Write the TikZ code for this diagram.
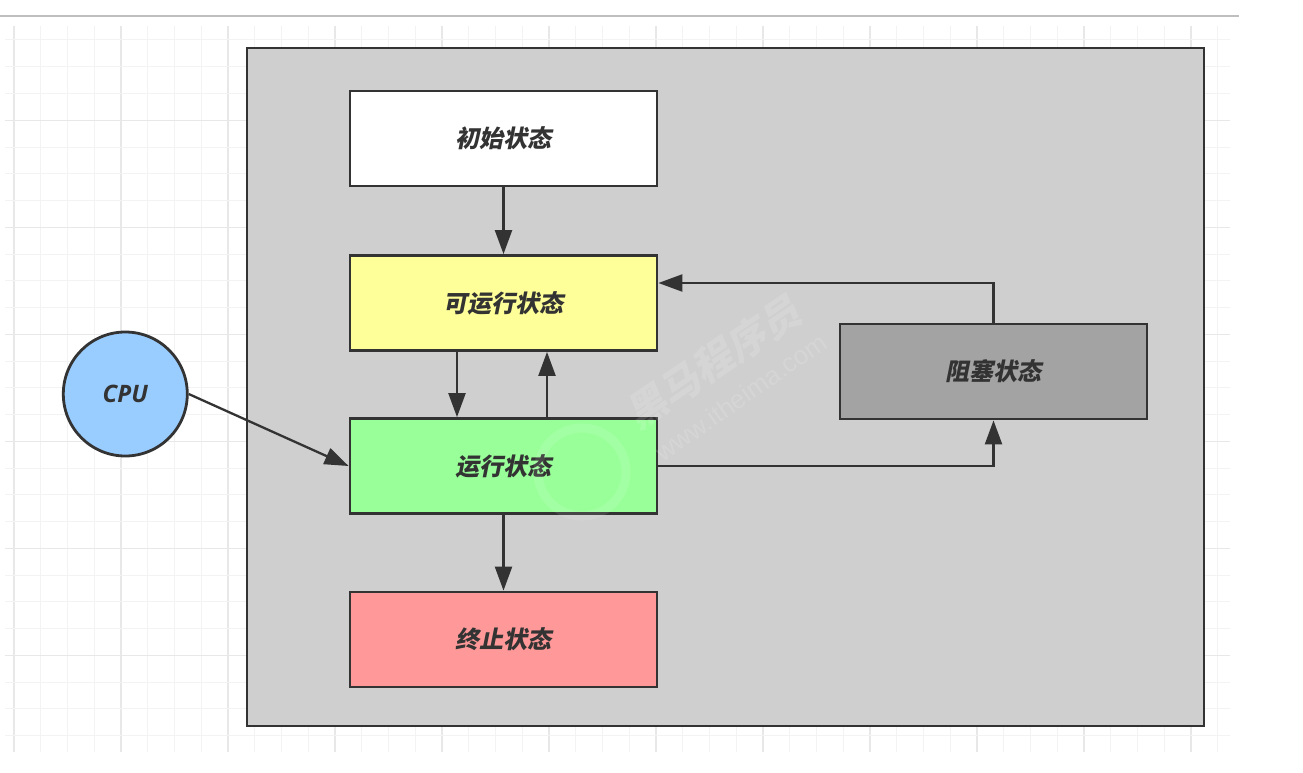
\documentclass[tikz,border=0pt]{standalone}
\usepackage{fontspec}
\newfontfamily\cjk[FakeSlant=0.2]{Noto Sans CJK SC}
\newfontfamily\lat{Open Sans}
\newfontfamily\wmlat{Liberation Sans}
\usetikzlibrary{arrows.meta}
\definecolor{ln}{HTML}{333333}
\definecolor{frame}{HTML}{CFCFCF}
\definecolor{yel}{HTML}{FFFF99}
\definecolor{grn}{HTML}{99FF99}
\definecolor{red}{HTML}{FF9999}
\definecolor{blk}{HTML}{A3A3A3}
\definecolor{cpublue}{HTML}{99CCFF}
\definecolor{gmin}{HTML}{F3F3F3}
\definecolor{gmaj}{HTML}{E8E8E8}
\tikzset{
  statebox/.style={draw=ln, line width=2.8pt, minimum width=307pt, minimum height=95pt,
    inner sep=0pt, font=\cjk\bfseries\fontsize{24}{24}\selectfont, text=ln},
  arr/.style={draw=ln, line width=2.3pt, -{Triangle[length=24pt,width=17pt]}},
  wmark/.style={text=white, opacity=0.13},
}
\begin{document}
\begin{tikzpicture}[x=1pt,y=-1pt]
\useasboundingbox (0,0) rectangle (1303,773);
\fill[white] (0,0) rectangle (1303,773);
% grid
\foreach \k in {0,...,45}{
  \pgfmathsetmacro\xx{14+26.75*\k}
  \pgfmathtruncatemacro\m{mod(\k,4)}
  \ifnum\m=0 \draw[gmaj, line width=1.2pt] (\xx,26) -- (\xx,752);
  \else \draw[gmin, line width=1pt] (\xx,26) -- (\xx,752); \fi
}
\foreach \k in {0,...,26}{
  \pgfmathsetmacro\yy{40+26.75*\k}
  \pgfmathtruncatemacro\m{mod(\k,4)}
  \ifnum\m=3 \draw[gmaj, line width=1.2pt] (5,\yy) -- (1230,\yy);
  \else \draw[gmin, line width=1pt] (5,\yy) -- (1230,\yy); \fi
}
\draw[color=black!25, line width=1.3pt] (0,16) -- (1239,16);
% frame
\node[draw=ln, fill=frame, line width=2.8pt, minimum width=957pt, minimum height=678pt, inner sep=0pt] (frm) at (725.5,387) {};
% states
\node[statebox, fill=white] (init) at (503.5,138.5) {初始状态};
\node[statebox, fill=yel] (runnable) at (503.5,303) {可运行状态};
\node[statebox, fill=grn] (running) at (503.5,466) {运行状态};
\node[statebox, fill=red] (term) at (503.5,639.5) {终止状态};
\node[statebox, fill=blk] (blocked) at (993.5,371.5) {阻塞状态};
\node[circle, draw=ln, line width=2.8pt, fill=cpublue, minimum size=124pt, inner sep=0pt,
  font=\lat\bfseries\itshape\fontsize{24}{24}\selectfont, text=ln] (cpu) at (125.3,394) {CPU};
% connectors
\draw[arr] (init.south) -- (runnable.north);
\draw[arr] ([xshift=-46.5pt]runnable.south) -- ([xshift=-46.5pt]running.north);
\draw[arr] ([xshift=43.5pt]running.north) -- ([xshift=43.5pt]runnable.south);
\draw[arr] (running.east) -| (blocked.south);
\draw[arr] (blocked.north) |- ([yshift=20pt]runnable.east);
\draw[arr] (cpu.east) -- (running.west);
\draw[arr] (running.south) -- (term.north);
% watermark
\node[wmark, rotate=34, font=\cjk\bfseries\fontsize{40}{40}\selectfont] (wm1) at (713,362) {黑马程序员};
\node[wmark, rotate=35, font=\wmlat\fontsize{26}{26}\selectfont] (wm2) at (741,397) {www.itheima.com};
\draw[white, opacity=0.1, line width=9pt] (582,472) circle (44);
\end{tikzpicture}
\end{document}
